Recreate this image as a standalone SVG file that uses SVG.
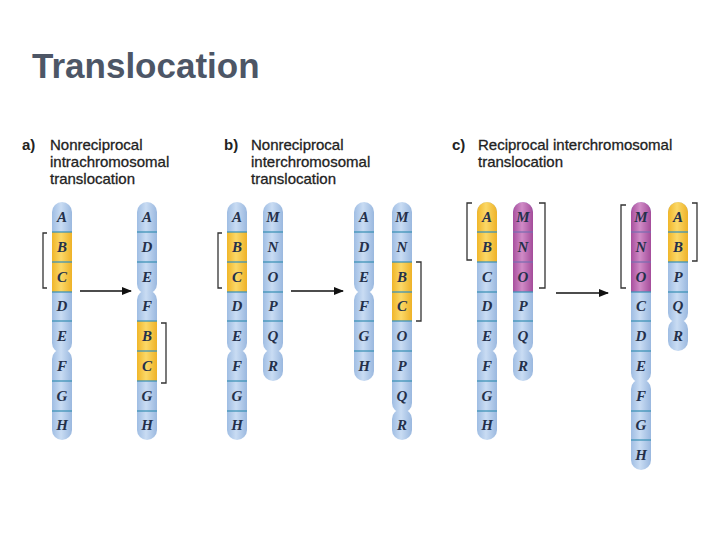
<svg xmlns="http://www.w3.org/2000/svg" width="728" height="546" viewBox="0 0 728 546">
<defs>
<linearGradient id="gb" x1="0" x2="1" y1="0" y2="0"><stop offset="0" stop-color="#9fbde3"/><stop offset="0.45" stop-color="#c9dcf3"/><stop offset="1" stop-color="#9ab8df"/></linearGradient>
<linearGradient id="gy" x1="0" x2="1" y1="0" y2="0"><stop offset="0" stop-color="#f0b62a"/><stop offset="0.45" stop-color="#fbd867"/><stop offset="1" stop-color="#eeb228"/></linearGradient>
<linearGradient id="gp" x1="0" x2="1" y1="0" y2="0"><stop offset="0" stop-color="#a84f9e"/><stop offset="0.45" stop-color="#d08bc6"/><stop offset="1" stop-color="#a44c9a"/></linearGradient>
<marker id="ah" viewBox="0 0 10 10" refX="9" refY="5" markerWidth="7" markerHeight="7" orient="auto"><path d="M0,1 L10,5 L0,9 z" fill="#111"/></marker>
</defs>
<style>
.arm{fill:url(#gb)}
.y{fill:url(#gy)}
.p{fill:url(#gp)}
.ln{stroke:#3f94b6;stroke-width:1.3}
.lt{font-family:"Liberation Serif",serif;font-style:italic;font-weight:bold;font-size:15px;fill:#24304a;text-anchor:middle}
.hd{font-family:"Liberation Sans",Arial,sans-serif;font-size:15px;fill:#222;stroke:#222;stroke-width:0.3}
.hb{font-family:"Liberation Sans",Arial,sans-serif;font-size:15px;fill:#222;font-weight:bold}
.br{fill:none;stroke:#333;stroke-width:1.3}
.ar{stroke:#111;stroke-width:1.5;marker-end:url(#ah)}
</style>
<rect width="728" height="546" fill="#fff"/>
<text x="32" y="78" font-family="Liberation Sans,Arial,sans-serif" font-weight="bold" font-size="35" fill="#4d5666">Translocation</text>

<g id="labels">
<text class="hb" x="22" y="150">a)</text>
<text class="hd" x="50" y="150">Nonreciprocal</text>
<text class="hd" x="50" y="167">intrachromosomal</text>
<text class="hd" x="50" y="184">translocation</text>
<text class="hb" x="224" y="150">b)</text>
<text class="hd" x="251" y="150">Nonreciprocal</text>
<text class="hd" x="251" y="167">interchromosomal</text>
<text class="hd" x="251" y="184">translocation</text>
<text class="hb" x="452" y="150">c)</text>
<text class="hd" x="478" y="150">Reciprocal interchromosomal</text>
<text class="hd" x="478" y="167">translocation</text>
</g>

<!-- a left -->
<g id="a1">
<rect class="arm" x="52" y="202" width="20" height="151" rx="10"/><rect class="arm" x="52" y="349" width="20" height="91" rx="10"/>
<rect class="y" x="52" y="232" width="20" height="60"/>
<g class="ln"><line x1="52" x2="72" y1="232" y2="232"/><line x1="52" x2="72" y1="262" y2="262"/><line x1="52" x2="72" y1="292" y2="292"/><line x1="52" x2="72" y1="321" y2="321"/><line x1="52" x2="72" y1="381" y2="381"/><line x1="52" x2="72" y1="411" y2="411"/></g>
<g class="lt"><text x="62" y="222">A</text><text x="62" y="252">B</text><text x="62" y="282">C</text><text x="62" y="311">D</text><text x="62" y="341">E</text><text x="62" y="371">F</text><text x="62" y="401">G</text><text x="62" y="430">H</text></g>
</g>
<g id="a2">
<rect class="arm" x="137" y="202" width="20" height="92" rx="10"/><rect class="arm" x="137" y="290" width="20" height="150" rx="10"/>
<rect class="y" x="137" y="321" width="20" height="60"/>
<g class="ln"><line x1="137" x2="157" y1="232" y2="232"/><line x1="137" x2="157" y1="262" y2="262"/><line x1="137" x2="157" y1="321" y2="321"/><line x1="137" x2="157" y1="351" y2="351"/><line x1="137" x2="157" y1="381" y2="381"/><line x1="137" x2="157" y1="411" y2="411"/></g>
<g class="lt"><text x="147" y="222">A</text><text x="147" y="252">D</text><text x="147" y="282">E</text><text x="147" y="311">F</text><text x="147" y="341">B</text><text x="147" y="371">C</text><text x="147" y="401">G</text><text x="147" y="430">H</text></g>
</g>

<!-- b -->
<g id="b1">
<rect class="arm" x="227" y="202" width="20" height="151" rx="10"/><rect class="arm" x="227" y="349" width="20" height="91" rx="10"/>
<rect class="y" x="227" y="232" width="20" height="60"/>
<g class="ln"><line x1="227" x2="247" y1="232" y2="232"/><line x1="227" x2="247" y1="262" y2="262"/><line x1="227" x2="247" y1="292" y2="292"/><line x1="227" x2="247" y1="321" y2="321"/><line x1="227" x2="247" y1="381" y2="381"/><line x1="227" x2="247" y1="411" y2="411"/></g>
<g class="lt"><text x="237" y="222">A</text><text x="237" y="252">B</text><text x="237" y="282">C</text><text x="237" y="311">D</text><text x="237" y="341">E</text><text x="237" y="371">F</text><text x="237" y="401">G</text><text x="237" y="430">H</text></g>
</g>
<g id="b2">
<rect class="arm" x="263" y="202" width="20" height="151" rx="10"/><rect class="arm" x="263" y="349" width="20" height="32" rx="10"/>
<g class="ln"><line x1="263" x2="283" y1="232" y2="232"/><line x1="263" x2="283" y1="262" y2="262"/><line x1="263" x2="283" y1="292" y2="292"/><line x1="263" x2="283" y1="321" y2="321"/></g>
<g class="lt"><text x="273" y="222">M</text><text x="273" y="252">N</text><text x="273" y="282">O</text><text x="273" y="311">P</text><text x="273" y="341">Q</text><text x="273" y="371">R</text></g>
</g>
<g id="b3">
<rect class="arm" x="354" y="202" width="20" height="92" rx="10"/><rect class="arm" x="354" y="290" width="20" height="91" rx="10"/>
<g class="ln"><line x1="354" x2="374" y1="232" y2="232"/><line x1="354" x2="374" y1="262" y2="262"/><line x1="354" x2="374" y1="321" y2="321"/><line x1="354" x2="374" y1="351" y2="351"/></g>
<g class="lt"><text x="364" y="222">A</text><text x="364" y="252">D</text><text x="364" y="282">E</text><text x="364" y="311">F</text><text x="364" y="341">G</text><text x="364" y="371">H</text></g>
</g>
<g id="b4">
<rect class="arm" x="392" y="202" width="20" height="211" rx="10"/><rect class="arm" x="392" y="409" width="20" height="31" rx="10"/>
<rect class="y" x="392" y="262" width="20" height="59"/>
<g class="ln"><line x1="392" x2="412" y1="232" y2="232"/><line x1="392" x2="412" y1="262" y2="262"/><line x1="392" x2="412" y1="292" y2="292"/><line x1="392" x2="412" y1="321" y2="321"/><line x1="392" x2="412" y1="351" y2="351"/><line x1="392" x2="412" y1="381" y2="381"/></g>
<g class="lt"><text x="402" y="222">M</text><text x="402" y="252">N</text><text x="402" y="282">B</text><text x="402" y="311">C</text><text x="402" y="341">O</text><text x="402" y="371">P</text><text x="402" y="401">Q</text><text x="402" y="430">R</text></g>
</g>

<!-- c -->
<g id="c1">
<rect class="arm" x="477" y="202" width="20" height="151" rx="10"/><rect class="arm" x="477" y="349" width="20" height="91" rx="10"/>
<rect class="y" x="477" y="202" width="20" height="60" rx="10"/><rect class="y" x="477" y="214" width="20" height="48"/>
<g class="ln"><line x1="477" x2="497" y1="232" y2="232"/><line x1="477" x2="497" y1="262" y2="262"/><line x1="477" x2="497" y1="292" y2="292"/><line x1="477" x2="497" y1="321" y2="321"/><line x1="477" x2="497" y1="381" y2="381"/><line x1="477" x2="497" y1="411" y2="411"/></g>
<g class="lt"><text x="487" y="222">A</text><text x="487" y="252">B</text><text x="487" y="282">C</text><text x="487" y="311">D</text><text x="487" y="341">E</text><text x="487" y="371">F</text><text x="487" y="401">G</text><text x="487" y="430">H</text></g>
</g>
<g id="c2">
<rect class="arm" x="513" y="202" width="20" height="151" rx="10"/><rect class="arm" x="513" y="349" width="20" height="32" rx="10"/>
<rect class="p" x="513" y="202" width="20" height="90" rx="10"/><rect class="p" x="513" y="214" width="20" height="78"/>
<g class="ln"><line x1="513" x2="533" y1="232" y2="232" stroke="#7a6fb0"/><line x1="513" x2="533" y1="262" y2="262" stroke="#7a6fb0"/><line x1="513" x2="533" y1="292" y2="292"/><line x1="513" x2="533" y1="321" y2="321"/></g>
<g class="lt"><text x="523" y="222">M</text><text x="523" y="252">N</text><text x="523" y="282">O</text><text x="523" y="311">P</text><text x="523" y="341">Q</text><text x="523" y="371">R</text></g>
</g>
<g id="c3">
<rect class="arm" x="631" y="202" width="20" height="181" rx="10"/><rect class="arm" x="631" y="379" width="20" height="91" rx="10"/>
<rect class="p" x="631" y="202" width="20" height="90" rx="10"/><rect class="p" x="631" y="214" width="20" height="78"/>
<g class="ln"><line x1="631" x2="651" y1="232" y2="232" stroke="#7a6fb0"/><line x1="631" x2="651" y1="262" y2="262" stroke="#7a6fb0"/><line x1="631" x2="651" y1="292" y2="292"/><line x1="631" x2="651" y1="321" y2="321"/><line x1="631" x2="651" y1="351" y2="351"/><line x1="631" x2="651" y1="411" y2="411"/><line x1="631" x2="651" y1="440" y2="440"/></g>
<g class="lt"><text x="641" y="222">M</text><text x="641" y="252">N</text><text x="641" y="282">O</text><text x="641" y="311">C</text><text x="641" y="341">D</text><text x="641" y="371">E</text><text x="641" y="401">F</text><text x="641" y="430">G</text><text x="641" y="460">H</text></g>
</g>
<g id="c4">
<rect class="arm" x="668" y="202" width="20" height="121" rx="10"/><rect class="arm" x="668" y="319" width="20" height="32" rx="10"/>
<rect class="y" x="668" y="202" width="20" height="60" rx="10"/><rect class="y" x="668" y="214" width="20" height="48"/>
<g class="ln"><line x1="668" x2="688" y1="232" y2="232"/><line x1="668" x2="688" y1="262" y2="262"/><line x1="668" x2="688" y1="292" y2="292"/></g>
<g class="lt"><text x="678" y="222">A</text><text x="678" y="252">B</text><text x="678" y="282">P</text><text x="678" y="311">Q</text><text x="678" y="341">R</text></g>
</g>

<g id="connectors">
<line class="ar" x1="80" y1="291" x2="131" y2="291"/>
<line class="ar" x1="291" y1="291" x2="343" y2="291"/>
<line class="ar" x1="556" y1="293" x2="608" y2="293"/>
<path class="br" d="M47,233 H43 V288 H47"/>
<path class="br" d="M161,323 H166 V383 H161"/>
<path class="br" d="M222,233 H218 V288 H222"/>
<path class="br" d="M416,262 H421 V321 H416"/>
<path class="br" d="M472,203 H467 V260 H472"/>
<path class="br" d="M539,203 H545 V288 H539"/>
<path class="br" d="M626,205 H621 V288 H626"/>
<path class="br" d="M692,203 H697 V261 H692"/>
</g>
</svg>
